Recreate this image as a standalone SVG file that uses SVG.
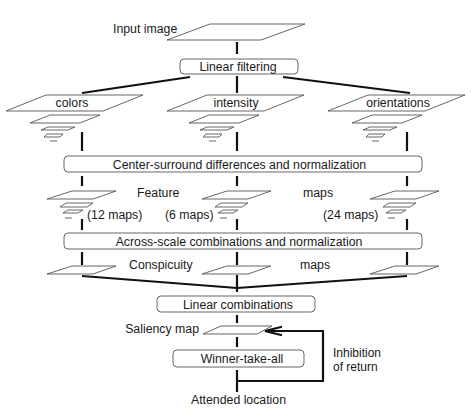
<svg xmlns="http://www.w3.org/2000/svg" xmlns:xlink="http://www.w3.org/1999/xlink" width="474" height="418" viewBox="0 0 474 418">
<style>
  .map{fill:#fff;stroke:#555;stroke-width:0.9}
  .box{fill:#fff;stroke:#666;stroke-width:1}
  .conn{fill:none;stroke:#111;stroke-width:2.2}
  .t{font-family:"Liberation Sans",Arial,sans-serif;font-size:12.3px;fill:#1a1a1a}
  .c{text-anchor:middle}
</style>
<defs>
  <g id="topStack">
    <polygon class="map" points="50,115 100,115 80,123 30,123"/>
    <polygon class="map" points="48,127 75,127 68,130 41,130"/>
    <polygon class="map" points="47,134 63,134 60,137 44,137"/>
    <line class="map" x1="50" y1="141" x2="57" y2="141"/>
  </g>
  <g id="featStack">
    <polygon class="map" points="72,191 116,191 93,199 47,199"/>
    <polygon class="map" points="66,203 93,203 87,207 60,207"/>
    <polygon class="map" points="68,210 83,210 78,213 63,213"/>
    <line class="map" x1="65" y1="218" x2="72" y2="218"/>
  </g>
  <polygon id="consp" class="map" points="72,266 116,266 93,274 47,274"/>
  <marker id="openArrow" markerUnits="userSpaceOnUse" markerWidth="22" markerHeight="12" refX="18" refY="5" orient="auto">
    <path d="M1,0.8 L18,5 L1,9.2" fill="none" stroke="#111" stroke-width="2.2"/>
  </marker>
</defs>

<g id="connectors">
  <!-- centre column -->
  <line class="conn" x1="237" y1="42" x2="237" y2="54"/>
  <line class="conn" x1="237" y1="76" x2="237" y2="93"/>
  <line class="conn" x1="190" y1="77" x2="82" y2="93"/>
  <line class="conn" x1="283" y1="77" x2="410" y2="93"/>
  <line class="conn" x1="237" y1="132" x2="237" y2="151"/>
  <line class="conn" x1="237" y1="176" x2="237" y2="186"/>
  <line class="conn" x1="237" y1="219" x2="237" y2="230"/>
  <line class="conn" x1="237" y1="252" x2="237" y2="265"/>
  <line class="conn" x1="237" y1="275" x2="237" y2="292"/>
  <line class="conn" x1="237" y1="315" x2="237" y2="323"/>
  <line class="conn" x1="237" y1="337" x2="237" y2="347"/>
  <line class="conn" x1="237" y1="370" x2="237" y2="392"/>
  <!-- left column -->
  <line class="conn" x1="82" y1="132" x2="82" y2="151"/>
  <line class="conn" x1="82" y1="176" x2="82" y2="186"/>
  <line class="conn" x1="82" y1="219" x2="82" y2="230"/>
  <line class="conn" x1="82" y1="252" x2="82" y2="265"/>
  <!-- right column -->
  <line class="conn" x1="407" y1="132" x2="407" y2="151"/>
  <line class="conn" x1="407" y1="176" x2="407" y2="186"/>
  <line class="conn" x1="407" y1="219" x2="407" y2="230"/>
  <line class="conn" x1="407" y1="252" x2="407" y2="265"/>
  <!-- convergence -->
  <line class="conn" x1="82" y1="276" x2="237" y2="288"/>
  <line class="conn" x1="407" y1="276" x2="237" y2="288"/>
  <!-- inhibition of return loop -->
  <polyline class="conn" points="237,381 323,381 323,331 265,331" marker-end="url(#openArrow)"/>
</g>

<g id="input-image">
  <polygon class="map" points="210,24 305,24 261,40 167,40"/>
  <text class="t" x="113" y="33">Input image</text>
</g>

<g id="linear-filtering">
  <rect class="box" x="180" y="59" width="118" height="15" rx="4"/>
  <text class="t c" x="238" y="71">Linear filtering</text>
</g>

<g id="colors">
  <polygon class="map" points="46,95 143,95 103,111 6,111"/>
  <text class="t c" x="72" y="107">colors</text>
  <use xlink:href="#topStack"/>
</g>

<g id="intensity">
  <polygon class="map" points="207,95 304,95 264,111 167,111"/>
  <text class="t c" x="236" y="107">intensity</text>
  <use xlink:href="#topStack" transform="translate(159,0)"/>
</g>

<g id="orientations">
  <polygon class="map" points="368,95 465,95 425,111 328,111"/>
  <text class="t c" x="398" y="107">orientations</text>
  <use xlink:href="#topStack" transform="translate(322,0)"/>
</g>

<g id="center-surround">
  <rect class="box" x="64" y="156" width="358" height="16" rx="4"/>
  <text class="t c" x="239.5" y="168.5">Center-surround differences and normalization</text>
</g>

<g id="feature-colors">
  <use xlink:href="#featStack"/>
  <text class="t" x="87" y="219">(12 maps)</text>
</g>
<g id="feature-intensity">
  <use xlink:href="#featStack" transform="translate(155,0)"/>
  <text class="t" x="165" y="219">(6 maps)</text>
</g>
<g id="feature-orientations">
  <use xlink:href="#featStack" transform="translate(323,0)"/>
  <text class="t" x="323" y="219">(24 maps)</text>
</g>
<g id="feature-label">
  <text class="t" x="137" y="197">Feature</text>
  <text class="t" x="303" y="197">maps</text>
</g>

<g id="across-scale">
  <rect class="box" x="64" y="233" width="358" height="16" rx="4"/>
  <text class="t c" x="239" y="245.5">Across-scale combinations and normalization</text>
</g>

<g id="conspicuity-colors"><use xlink:href="#consp"/></g>
<g id="conspicuity-intensity"><use xlink:href="#consp" transform="translate(155,0)"/></g>
<g id="conspicuity-orientations"><use xlink:href="#consp" transform="translate(323,0)"/></g>
<g id="conspicuity-label">
  <text class="t" x="129" y="269">Conspicuity</text>
  <text class="t" x="300" y="269">maps</text>
</g>

<g id="linear-combinations">
  <rect class="box" x="157" y="296" width="158" height="16" rx="4"/>
  <text class="t c" x="238" y="308.5">Linear combinations</text>
</g>

<g id="saliency-map">
  <polygon class="map" points="221,326 272,326 257,334 203,334"/>
  <text class="t" x="199" y="333" text-anchor="end">Saliency map</text>
</g>

<g id="winner-take-all">
  <rect class="box" x="173" y="350" width="131" height="17" rx="4"/>
  <text class="t c" x="242" y="363">Winner-take-all</text>
</g>

<g id="attended-location">
  <text class="t c" x="238.5" y="404">Attended location</text>
</g>

<g id="inhibition-label">
  <text class="t" x="333" y="356.5" style="font-size:12px">Inhibition</text>
  <text class="t" x="333" y="370.5" style="font-size:12px">of return</text>
</g>
</svg>
